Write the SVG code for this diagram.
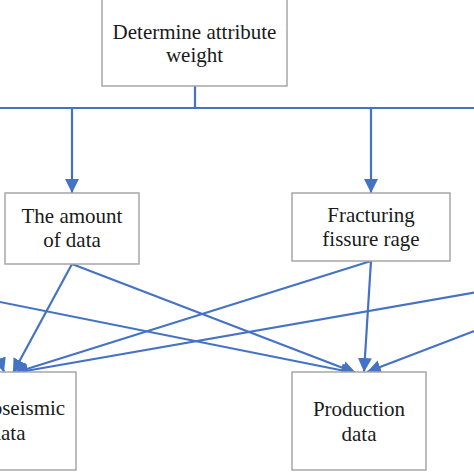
<svg xmlns="http://www.w3.org/2000/svg" width="474" height="474" viewBox="0 0 474 474">
<style>
.box{fill:#fff;stroke:#A6A6A6;stroke-width:1.5}
.t{font-family:"Liberation Serif","Times New Roman",serif;font-size:21px;fill:#1a1a1a;text-anchor:middle}
.c{fill:none;stroke:#4472C4;stroke-width:2.2}
</style>
<defs>
<marker id="ah" markerUnits="userSpaceOnUse" markerWidth="15" markerHeight="14" refX="14" refY="7" orient="auto">
<path d="M0,0 L14,7 L0,14 z" fill="#4472C4"/>
</marker>
</defs>
<rect width="474" height="474" fill="#fff"/>
<g id="connectors">
<polyline class="c" points="195,86 195,108"/>
<line class="c" x1="-10" y1="108" x2="484" y2="108"/>
<line class="c" x1="72" y1="108" x2="72" y2="193" marker-end="url(#ah)"/>
<line class="c" x1="371" y1="108" x2="371" y2="193" marker-end="url(#ah)"/>
<line class="c" x1="72" y1="264" x2="13" y2="373" marker-end="url(#ah)"/>
<line class="c" x1="72" y1="264" x2="356" y2="373" marker-end="url(#ah)"/>
<line class="c" x1="371" y1="261" x2="14" y2="373" marker-end="url(#ah)"/>
<line class="c" x1="371" y1="261" x2="364" y2="372" marker-end="url(#ah)"/>
<line class="c" x1="-50" y1="292" x2="355" y2="373" marker-end="url(#ah)"/>
<line class="c" x1="524" y1="284" x2="14" y2="373" marker-end="url(#ah)"/>
<line class="c" x1="524" y1="312" x2="367" y2="372" marker-end="url(#ah)"/>
<line class="c" x1="-30" y1="280" x2="4" y2="372" marker-end="url(#ah)"/>
</g>
<g id="node-weight">
<rect class="box" x="102" y="-2" width="185" height="88"/>
<text class="t" x="194.5" y="39">Determine attribute</text>
<text class="t" x="194.5" y="62">weight</text>
</g>
<g id="node-amount">
<rect class="box" x="5" y="193" width="134" height="71"/>
<text class="t" x="72" y="223">The amount</text>
<text class="t" x="72" y="247">of data</text>
</g>
<g id="node-fissure">
<rect class="box" x="292" y="193" width="158" height="68"/>
<text class="t" x="371" y="222">Fracturing</text>
<text class="t" x="371" y="246">fissure rage</text>
</g>
<g id="node-microseismic">
<rect class="box" x="-60" y="372" width="136" height="98"/>
<text class="t" x="8" y="415">Microseismic</text>
<text class="t" x="8" y="440">data</text>
</g>
<g id="node-production">
<rect class="box" x="292" y="372" width="134" height="98"/>
<text class="t" x="359" y="416">Production</text>
<text class="t" x="359" y="441">data</text>
</g>
</svg>
